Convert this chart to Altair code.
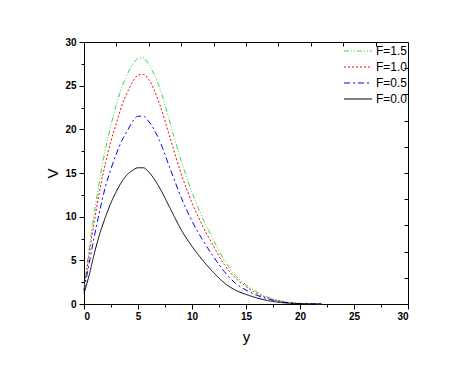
import altair as alt
import pandas as pd

# ---- data ----
y_vals = [0, 0.5, 1, 1.5, 2, 2.5, 3, 3.5, 4, 4.5, 5, 5.5, 6, 7, 8, 9, 10, 11, 12, 13, 14, 15, 16, 17, 18, 19, 20, 21, 22]
v_f15 = [1.7, 6.5, 10.8, 14.6, 17.8, 20.5, 22.8, 24.8, 26.3, 27.4, 28.1, 28.2, 27.4, 24.8, 20.6, 16.4, 12.8, 9.8, 7.3, 5.0, 3.3, 2.2, 1.4, 0.8, 0.4, 0.17, 0.07, 0.02, 0.0]
v_f10 = [1.6, 5.9, 9.8, 13.3, 16.2, 18.7, 20.7, 22.7, 24.2, 25.4, 26.2, 26.3, 25.7, 22.9, 18.9, 14.9, 11.6, 8.9, 6.6, 4.5, 3.0, 2.0, 1.2, 0.7, 0.35, 0.15, 0.06, 0.02, 0.0]
v_f05 = [1.5, 4.8, 8.0, 10.9, 13.5, 15.5, 17.2, 18.7, 19.8, 20.9, 21.5, 21.5, 20.9, 18.7, 15.4, 12.2, 9.5, 7.3, 5.4, 3.7, 2.4, 1.6, 1.0, 0.6, 0.3, 0.13, 0.05, 0.02, 0.0]
v_f00 = [1.2, 3.4, 6.0, 8.2, 10.0, 11.6, 12.9, 14.0, 14.8, 15.3, 15.6, 15.6, 15.1, 13.3, 10.9, 8.5, 6.6, 5.0, 3.6, 2.4, 1.6, 1.1, 0.7, 0.4, 0.2, 0.09, 0.03, 0.01, 0.0]

series_labels = ["F=1.5", "F=1.0", "F=0.5", "F=0.0"]
series_values = [v_f15, v_f10, v_f05, v_f00]
series_colors = ["#33dd33", "#ff0000", "#0000ff", "#000000"]
series_dashes = [[5, 2, 1, 2, 1, 2], [2, 2], [6, 3, 2, 3], [1, 0]]

x_ticks = [i * 2.5 for i in range(13)]
y_ticks = [i * 2.5 for i in range(13)]
mirror_ticks = [3, 6, 9, 12, 15, 18, 21, 24, 27]

rows = []
for lab, vals in zip(series_labels, series_values):
    for xv, vv in zip(y_vals, vals):
        rows.append({"y": xv, "V": vv, "F": lab})
df = pd.DataFrame(rows)

W, H = 324, 262

legend_cfg = alt.Legend(
    title=None, orient="none", legendX=268, legendY=3, padding=0,
    symbolType="M-3,0H3", symbolSize=87, symbolStrokeWidth=1,
    labelFont="Liberation Sans", labelFontSize=12, labelColor="black",
    labelOffset=12, rowPadding=4,
)

xscale = alt.Scale(domain=[0, 30], nice=False, zero=False)
yscale = alt.Scale(domain=[0, 30], nice=False, zero=False)

lines = alt.Chart(df).mark_line(strokeWidth=1, interpolate="monotone").encode(
    x=alt.X("y:Q", scale=xscale, title="y",
            axis=alt.Axis(values=x_ticks, grid=False,
                          labelExpr="datum.value % 5 === 0 ? datum.label : ''",
                          tickSize={"condition": {"test": "datum.value % 5 === 0", "value": 5}, "value": 3},
                          labelPadding=2, titlePadding=8)),
    y=alt.Y("V:Q", scale=yscale, title="V",
            axis=alt.Axis(values=y_ticks, grid=False,
                          labelExpr="datum.value % 5 === 0 ? datum.label : ''",
                          tickSize={"condition": {"test": "datum.value % 5 === 0", "value": 5}, "value": 3},
                          labelPadding=3, titlePadding=4)),
    color=alt.Color("F:N", scale=alt.Scale(domain=series_labels, range=series_colors), legend=legend_cfg),
    strokeDash=alt.StrokeDash("F:N", scale=alt.Scale(domain=series_labels, range=series_dashes), legend=legend_cfg),
)

mirror = alt.Chart(df).mark_line(opacity=0).encode(
    x=alt.X("y:Q", scale=xscale, title=None,
            axis=alt.Axis(orient="bottom", offset=-H, values=mirror_ticks, labels=False,
                          domain=False, grid=False, tickSize=4)),
    y=alt.Y("V:Q", scale=yscale, title=None,
            axis=alt.Axis(orient="left", offset=-W, values=mirror_ticks, labels=False,
                          domain=False, grid=False, tickSize=4)),
)

chart = alt.layer(lines, mirror).resolve_scale(x="independent", y="independent").properties(
    width=W, height=H,
    padding={"left": 76, "top": 34, "right": 58, "bottom": 62},
    autosize=alt.AutoSizeParams(type="none"),
).configure_view(stroke="black", strokeWidth=1).configure_axis(
    labelFont="Liberation Sans", labelFontSize=10, labelFontWeight="bold", labelColor="black",
    titleFont="Liberation Sans", titleFontSize=15, titleFontWeight="normal", titleColor="black",
    domainColor="black", tickColor="black", domainWidth=1, tickWidth=1,
)

chart.save("out.html", embed_options={"renderer": "svg", "actions": False})
